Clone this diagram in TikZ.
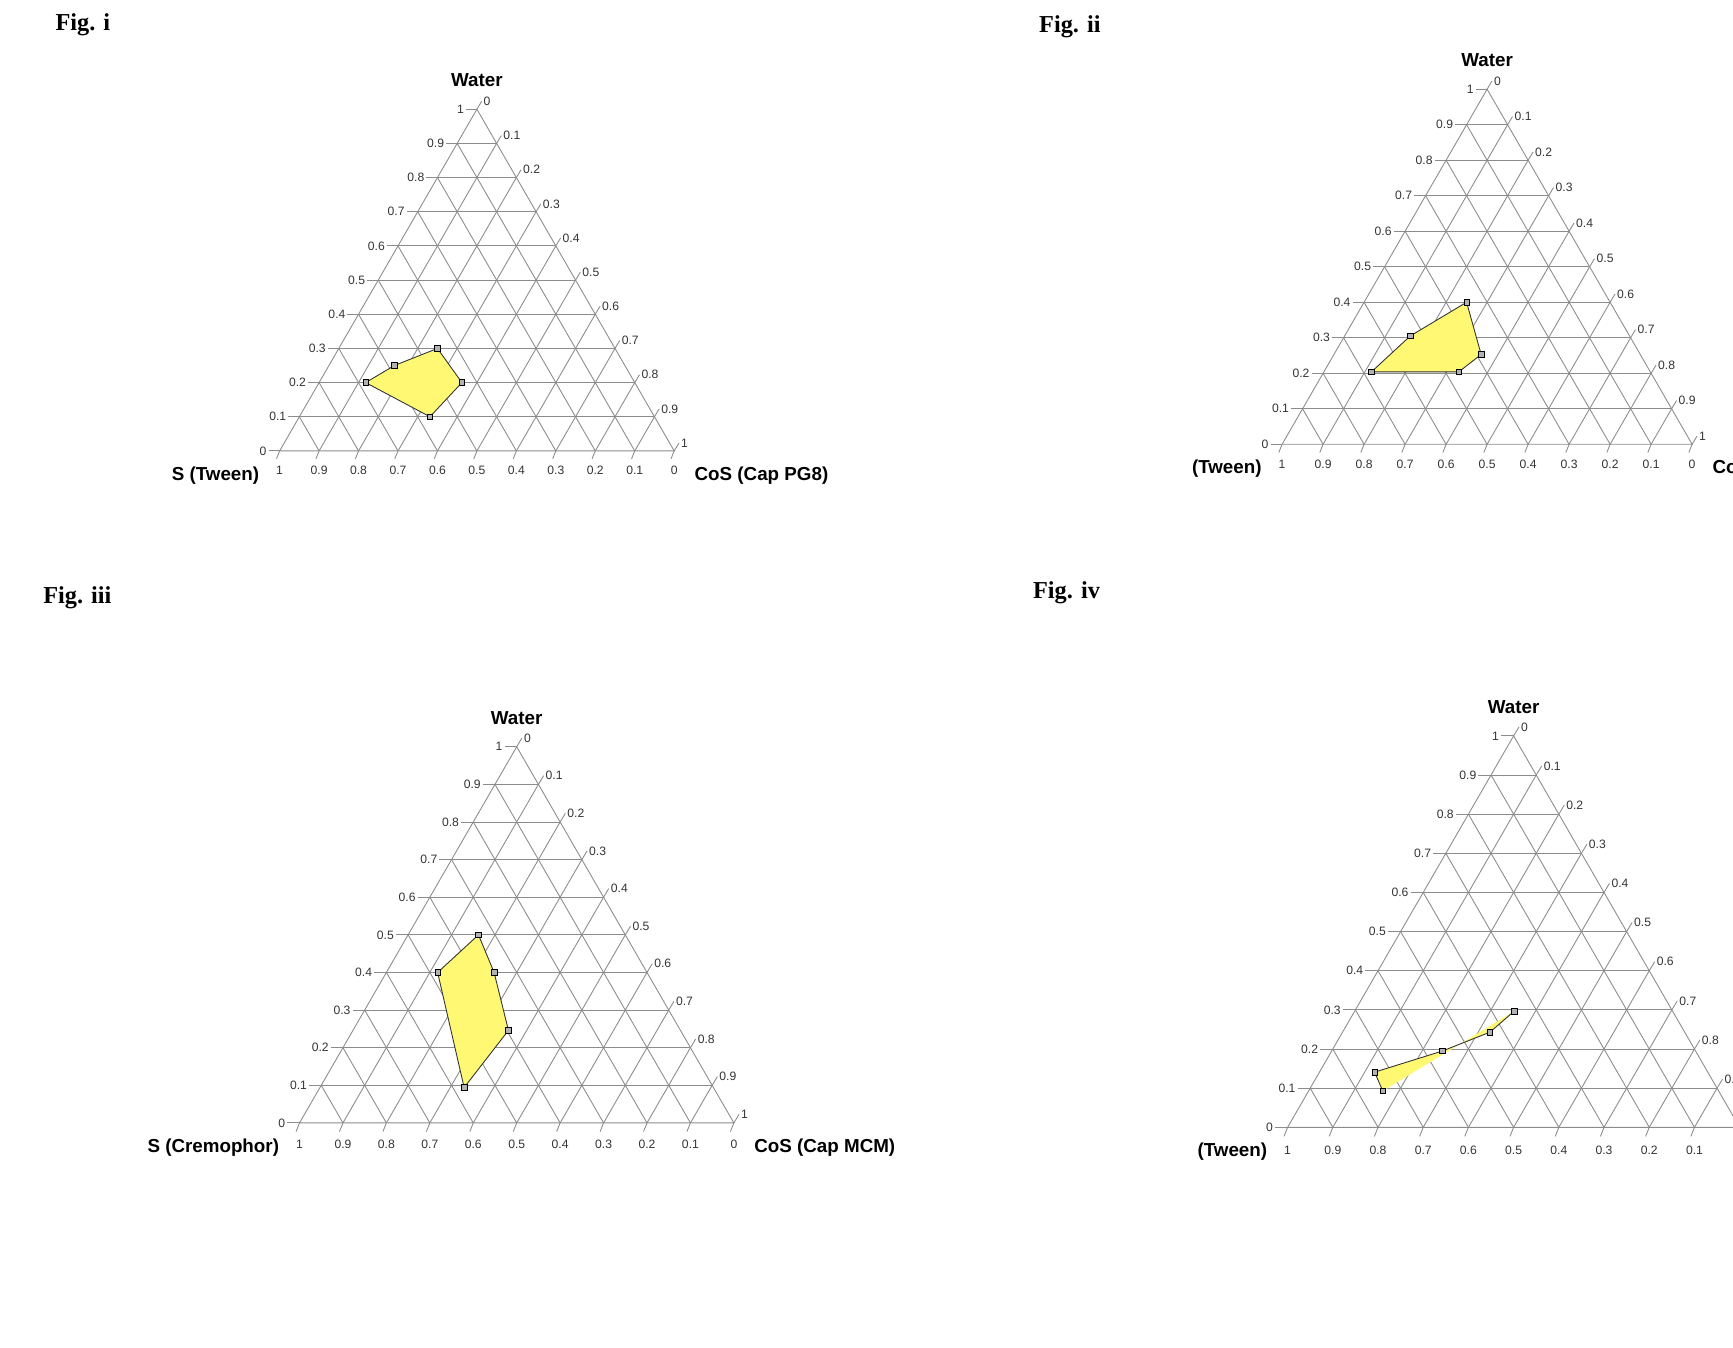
\documentclass[tikz,border=0pt]{standalone}
\usepackage{fontspec}
\setmainfont{Liberation Serif}
\setsansfont{Liberation Sans}
\begin{document}
\begin{tikzpicture}[x=1pt,y=1pt,
  gridl/.style={draw=gray!90,line width=0.8pt},
  ticklab/.style={font=\sffamily\fontsize{11}{13}\selectfont,text=black!80,inner sep=1.5pt},
  axtitle/.style={font=\sffamily\bfseries\fontsize{17}{20}\selectfont},
  figlab/.style={font=\rmfamily\bfseries\fontsize{22}{26}\selectfont,anchor=center},
  region/.style={fill=yellow!55,draw=black!80,line width=0.8pt},
  vtx/.style={draw=black,fill=gray!60,line width=0.6pt,minimum size=5pt,inner sep=0pt,rectangle}]
\useasboundingbox (0,0) rectangle (1568,1219);
\newcommand\myTern[6]{%
\begin{scope}[shift={(#1,#2)},x=#3pt,y=#3pt]
  \foreach \k in {1,...,9}{
    \draw[gridl] ({\k/20},{\k*0.0866}) -- ({1-\k/20},{\k*0.0866});
    \draw[gridl] ({\k/10},0) -- ({0.5+\k/20},{(1-\k/10)*0.866});
    \draw[gridl] ({1-\k/10},0) -- ({(1-\k/10)/2},{(1-\k/10)*0.866});
  }
  \draw[gridl] (0,0) -- (1,0) -- (0.5,0.866) -- cycle;
  \foreach \k/\l in {0/0,1/0.1,2/0.2,3/0.3,4/0.4,5/0.5,6/0.6,7/0.7,8/0.8,9/0.9,10/1}{
    \draw[gridl] ({\k/20},{\k*0.0866}) -- ++(-0.028,0) node[ticklab,anchor=east]{\l};
    \draw[gridl] ({0.5+\k/20},{(1-\k/10)*0.866}) -- ++(0.012,0.02) node[ticklab,anchor=west]{\l};
    \draw[gridl] ({1-\k/10},0) -- ++(-0.008,-0.02);
    \node[ticklab] at ({1-\k/10},-0.05) {\l};
  }
  \node[axtitle] at (0.5,{0.866+26/#3}) {Water};
  \node[axtitle,anchor=east] at ({-15/#3},{-22/#3}) {#4};
  \node[axtitle,anchor=west] at ({1+15/#3},{-22/#3}) {#5};
  #6
\end{scope}}
\newcommand\tpt[2]{({#2+#1/2},{#1*0.866})}
% Fig i
\node[figlab] at (75,1197) {Fig. i};
\myTern{253}{811}{357}{S (Tween)}{CoS (Cap PG8)}{%
  \draw[region] \tpt{0.3}{0.25} -- \tpt{0.2}{0.362} -- \tpt{0.1}{0.331} -- \tpt{0.2}{0.118} -- \tpt{0.25}{0.166} -- cycle;
  \foreach \w/\c in {0.3/0.25,0.2/0.362,0.1/0.331,0.2/0.118,0.25/0.166} \node[vtx] at \tpt{\w}{\c} {};
}
% Fig ii
\node[figlab] at (968,1195) {Fig. ii};
\myTern{1160}{817}{371}{(Tween)}{CoS (Cap PG8)}{%
  \draw[region] \tpt{0.4}{0.25} -- \tpt{0.253}{0.359} -- \tpt{0.204}{0.329} -- \tpt{0.204}{0.116} -- \tpt{0.305}{0.16} -- cycle;
  \foreach \w/\c in {0.4/0.25,0.253/0.359,0.204/0.329,0.204/0.116,0.305/0.16} \node[vtx] at \tpt{\w}{\c} {};
}
% Fig iii
\node[figlab] at (70,678) {Fig. iii};
\myTern{271}{203}{393}{S (Cremophor)}{CoS (Cap MCM)}{%
  \draw[region] \tpt{0.5}{0.162} -- \tpt{0.4}{0.248} -- \tpt{0.246}{0.358} -- \tpt{0.094}{0.332} -- \tpt{0.4}{0.118} -- cycle;
  \foreach \w/\c in {0.5/0.162,0.4/0.248,0.246/0.358,0.094/0.332,0.4/0.118} \node[vtx] at \tpt{\w}{\c} {};
}
% Fig iv
\node[figlab] at (965,683) {Fig. iv};
\myTern{1165}{199}{409}{(Tween)}{CoS (Cap MCM)}{%
  \fill[yellow!55] \tpt{0.297}{0.353} -- \tpt{0.243}{0.326} -- \tpt{0.195}{0.245} -- \tpt{0.141}{0.122} -- \tpt{0.093}{0.164} -- cycle;
  \draw[black!80,line width=0.8pt] \tpt{0.297}{0.353} -- \tpt{0.243}{0.326} -- \tpt{0.195}{0.245} -- \tpt{0.141}{0.122} -- \tpt{0.093}{0.164};
  \foreach \w/\c in {0.297/0.353,0.243/0.326,0.195/0.245,0.141/0.122,0.093/0.164} \node[vtx] at \tpt{\w}{\c} {};
}
\end{tikzpicture}
\end{document}
